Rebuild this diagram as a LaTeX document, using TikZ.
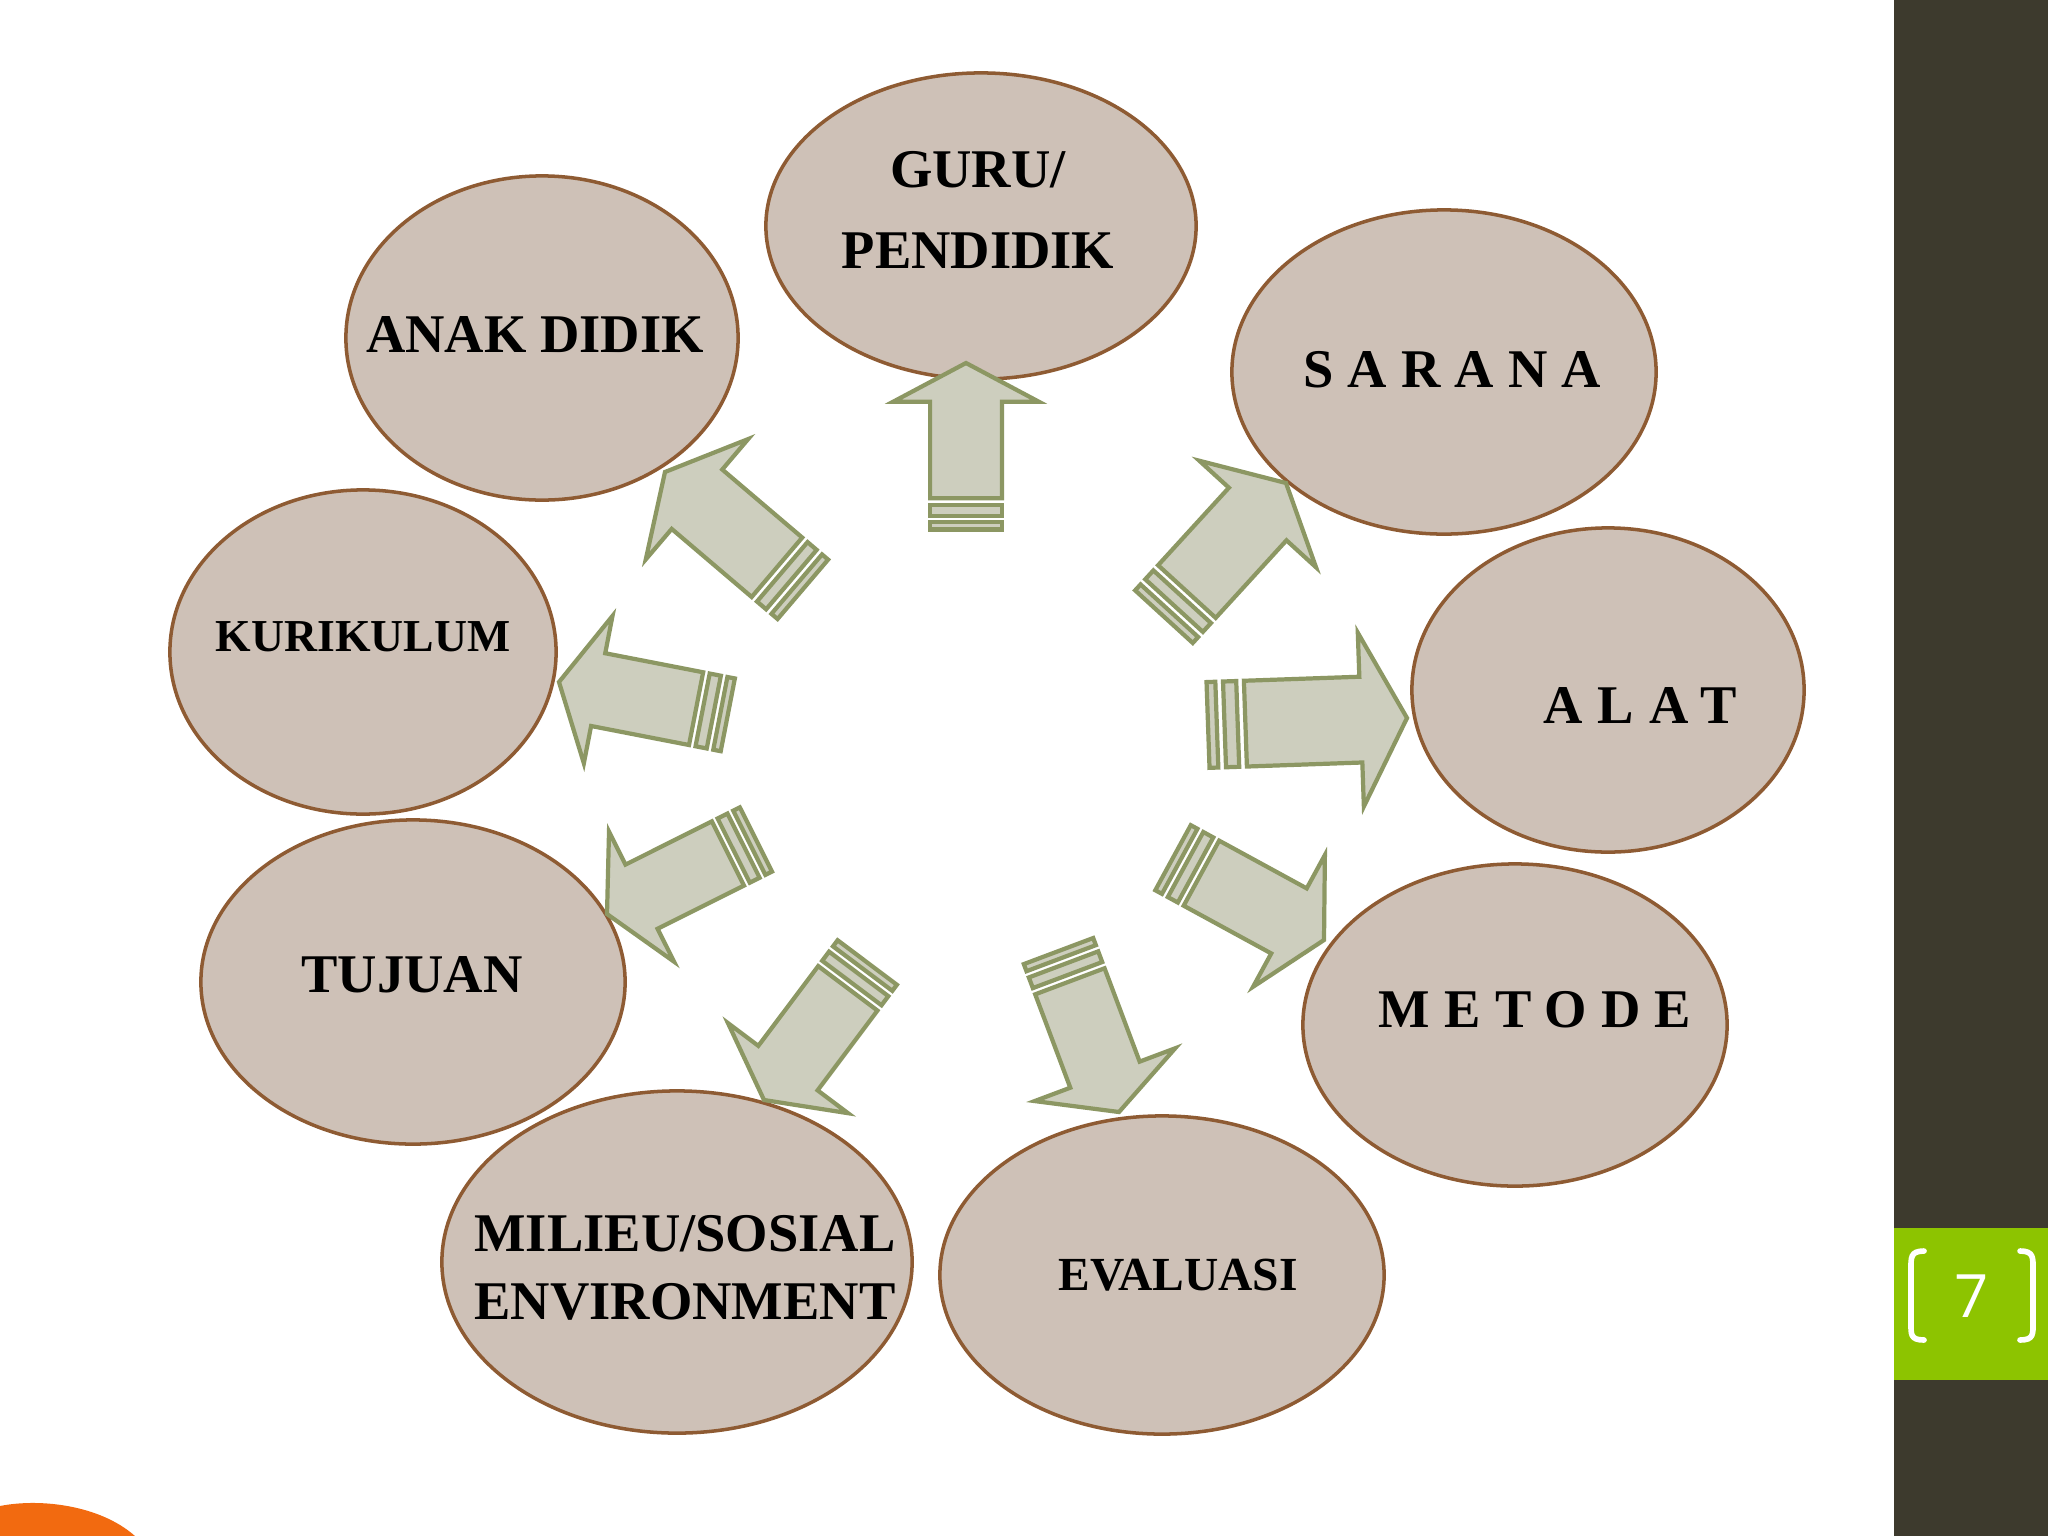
\documentclass[tikz,border=0pt]{standalone}
\usepackage{fontspec}
\setmainfont{Liberation Serif}
\setsansfont{Open Sans}
\usetikzlibrary{shapes.geometric}
\definecolor{ellfill}{HTML}{CEC1B7}
\definecolor{elldraw}{HTML}{8E5B33}
\definecolor{arrfill}{HTML}{CDCEBE}
\definecolor{arrdraw}{HTML}{8C9763}
\definecolor{sidebar}{HTML}{3D3A2D}
\definecolor{pagegreen}{HTML}{8DC400}
\definecolor{blobor}{HTML}{F26A10}
\tikzset{
  bubble/.style={ellipse, fill=ellfill, draw=elldraw, line width=1pt, inner sep=0pt},
  lbl/.style={font=\bfseries\fontsize{15.5}{23}\selectfont, align=center},
  blk/.style={fill=arrfill, draw=arrdraw, line width=1.2pt, line join=miter}
}
\newcommand\myarrow[4]{%
  \begin{scope}[shift={(#1,#2)},rotate=#3,scale=#4]
    \draw[blk] (0,0) -- (-42,79) -- (-42,39) -- (-147,39) -- (-147,-39) -- (-42,-39) -- (-42,-79) -- cycle;
    \draw[blk] (-154,-39) rectangle (-166,39);
    \draw[blk] (-173,-39) rectangle (-181,39);
  \end{scope}}
\begin{document}
\begin{tikzpicture}[x=0.01cm,y=0.01cm]
\useasboundingbox (0,0) rectangle (2048,-1536);
\fill[white] (0,0) rectangle (2048,-1536);
\fill[sidebar] (1894,0) rectangle (2048,-1536);
\fill[pagegreen] (1894,-1228) rectangle (2048,-1380);
\fill[blobor] (0,-1536) -- (0,-1506) .. controls (40,-1498) and (100,-1505) .. (135,-1536) -- cycle;
\draw[white,line width=1.6pt,line cap=round] (1924,-1251) .. controls (1910,-1251) and (1911,-1258) .. (1911,-1270) -- (1911,-1322) .. controls (1911,-1334) and (1910,-1340) .. (1924,-1340);
\draw[white,line width=1.6pt,line cap=round] (2020,-1251) .. controls (2034,-1251) and (2033,-1258) .. (2033,-1270) -- (2033,-1322) .. controls (2033,-1334) and (2034,-1340) .. (2020,-1340);
\node[text=white,font=\sffamily\fontsize{17}{20}\selectfont] (pg) at (1972,-1296) {7};

\node[bubble, minimum width=4.30cm, minimum height=3.06cm] (guru) at (981,-226) {};
\node[bubble, minimum width=3.92cm, minimum height=3.24cm] (anak) at (542,-338) {};
\node[bubble, minimum width=4.24cm, minimum height=3.24cm] (sarana) at (1444,-372) {};
\node[bubble, minimum width=3.86cm, minimum height=3.24cm] (kur) at (363,-652) {};
\node[bubble, minimum width=3.92cm, minimum height=3.24cm] (alat) at (1608,-690) {};
\node[bubble, minimum width=4.24cm, minimum height=3.24cm] (tuj) at (413,-982) {};
\node[bubble, minimum width=4.24cm, minimum height=3.22cm] (met) at (1515,-1025) {};
\node[bubble, minimum width=4.70cm, minimum height=3.42cm] (mil) at (677,-1262) {};
\node[bubble, minimum width=4.44cm, minimum height=3.18cm] (eva) at (1162,-1275) {};

\node[lbl] (tguru) at (978,-210) {GURU/\\PENDIDIK};
\node[lbl] (tanak) at (535,-335) {ANAK DIDIK};
\node[lbl] (tsar) at (1452,-370) {\addfontfeature{LetterSpace=26}SARANA};
\node[lbl, font=\bfseries\fontsize{13}{16}\selectfont] (tkur) at (363,-637) {KURIKULUM};
\node[lbl] (talat) at (1640,-705) {\addfontfeature{LetterSpace=28}ALAT};
\node[lbl] (ttuj) at (412,-975) {TUJUAN};
\node[lbl] (tmet) at (1535,-1010) {\addfontfeature{LetterSpace=26}METODE};
\node[lbl, font=\bfseries\fontsize{15.5}{19.5}\selectfont] (tmil) at (685,-1268) {MILIEU/SOSIAL\\ENVIRONMENT};
\node[lbl, font=\bfseries\fontsize{13.5}{16}\selectfont] (teva) at (1178,-1275) {EVALUASI};

\myarrow{966}{-363}{90}{0.92}
\myarrow{665}{-472}{139.6}{1}
\myarrow{1286}{-483}{47.6}{1}
\myarrow{1407}{-718}{2}{1.1}
\myarrow{559}{-682}{169}{0.95}
\myarrow{607}{-914}{-153.4}{0.92}
\myarrow{764}{-1100}{-126.9}{0.95}
\myarrow{1119}{-1112}{-69.4}{0.95}
\myarrow{1324}{-940}{-28.6}{0.95}
\end{tikzpicture}
\end{document}
